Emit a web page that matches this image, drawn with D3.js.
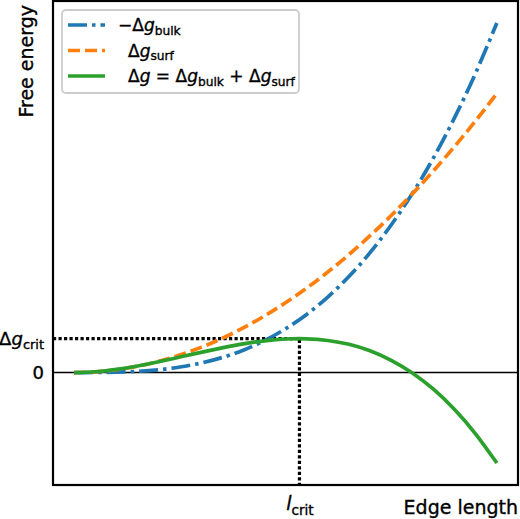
<!DOCTYPE html>
<html>
<head>
<meta charset="utf-8">
<script src="https://cdn.jsdelivr.net/npm/d3@7"></script>
<style>
  body { margin: 0; background: #fff; }
  svg { font-family: "DejaVu Sans", sans-serif; }
  text { stroke: #000; stroke-width: 0.35px; }
</style>
</head>
<body>
<div id="chart"></div>
<script>
// edge length (arbitrary units) and the three energy curves
var lengths  = [0, 0.5, 1, 1.5, 2, 2.5, 3, 3.5, 4, 4.5, 5, 5.5, 6, 6.5, 7, 7.5, 8, 8.5, 9, 9.5, 10];
var negBulk  = [0, 0.004, 0.035, 0.12, 0.28, 0.55, 0.95, 1.50, 2.24, 3.19, 4.38, 5.82, 7.56, 9.61, 12.0, 14.77, 17.92, 21.49, 25.52, 30.01, 35.0];
var surf     = [0, 0.07, 0.28, 0.63, 1.12, 1.75, 2.52, 3.42, 4.47, 5.66, 6.99, 8.45, 10.06, 11.81, 13.70, 15.72, 17.89, 20.19, 22.64, 25.22, 27.95];
var total    = [0, 0.08, 0.31, 0.66, 1.08, 1.55, 2.02, 2.47, 2.87, 3.17, 3.36, 3.38, 3.21, 2.83, 2.18, 1.22, -0.04, -1.67, -3.70, -6.16, -9.06];
var critLength = 5.33, critEnergy = 3.39;

var svgWidth = 520, svgHeight = 519;
var plotLeft = 53, plotRight = 518, plotTop = 1, plotBottom = 485;

var svg = d3.select('#chart').append("svg")
    .attr("width", svgWidth)
    .attr("height", svgHeight);

var x = d3.scaleLinear().domain([-0.5, 10.5]).range([plotLeft, plotRight]);
var y = d3.scaleLinear().domain([-11.26, 37.2]).range([plotBottom, plotTop]);

svg.append("clipPath").attr("id", "plot")
  .append("rect").attr("x", plotLeft).attr("y", plotTop)
  .attr("width", plotRight - plotLeft).attr("height", plotBottom - plotTop);

var plot = svg.append("g").attr("clip-path", "url(#plot)");

// zero line
plot.append("line")
    .attr("x1", plotLeft).attr("x2", plotRight)
    .attr("y1", y(0)).attr("y2", y(0))
    .attr("stroke", "#000").attr("stroke-width", 1.6);

// critical point guides
plot.append("path")
    .attr("d", "M" + plotLeft + "," + y(critEnergy) + "H" + x(critLength) + "V" + plotBottom)
    .attr("fill", "none")
    .attr("stroke", "#000").attr("stroke-width", 3.2)
    .attr("stroke-dasharray", "3.2,2.3");

var series = [
  {vals: negBulk, color: "#1f77b4", dash: "19,5,3.5,5"},
  {vals: surf,    color: "#ff7f0e", dash: "12,5"},
  {vals: total,   color: "#2ca02c", dash: null}
];

var line = d3.line()
    .x(function(d) { return x(d[0]); })
    .y(function(d) { return y(d[1]); })
    .curve(d3.curveNatural);

series.forEach(function(s) {
  plot.append("path")
      .attr("d", line(lengths.map(function(l, i) { return [l, s.vals[i]]; })))
      .attr("fill", "none")
      .attr("stroke", s.color)
      .attr("stroke-width", 3.7)
      .attr("stroke-dasharray", s.dash);
});

// frame
svg.append("rect")
    .attr("x", plotLeft).attr("y", plotTop)
    .attr("width", plotRight - plotLeft).attr("height", plotBottom - plotTop)
    .attr("fill", "none").attr("stroke", "#000").attr("stroke-width", 2.2);

// math-like label helper: parts = [[text, style]] style: "i" italic, "s" subscript
function mathText(sel, parts, size) {
  sel.text(null);
  var sub = false;
  parts.forEach(function(p) {
    var t = sel.append("tspan").text(p[0]);
    if (p[1] && p[1].indexOf("i") >= 0) t.attr("font-style", "italic");
    if (p[1] && p[1].indexOf("s") >= 0) {
      t.attr("font-size", size * 0.72);
      if (!sub) t.attr("dy", size * 0.22);
      sub = true;
    } else if (sub) {
      t.attr("dy", -size * 0.22);
      sub = false;
    }
  });
}

// y axis ticks
var yAxis = d3.axisLeft(y).tickValues([0, critEnergy]).tickSize(0).tickPadding(9);
var gy = svg.append("g").attr("transform", "translate(" + plotLeft + ",0)").call(yAxis);
gy.select(".domain").remove();
gy.selectAll("text").attr("font-size", 18).attr("font-family", "DejaVu Sans").attr("fill", "#000")
  .each(function(d) {
    if (d === critEnergy) mathText(d3.select(this), [["Δ"], ["g", "i"], ["crit", "s"]], 18);
  });

// x axis tick
var xAxis = d3.axisBottom(x).tickValues([critLength]).tickSize(0).tickPadding(12);
var gx = svg.append("g").attr("transform", "translate(0," + plotBottom + ")").call(xAxis);
gx.select(".domain").remove();
gx.selectAll("text").attr("font-size", 19).attr("font-family", "DejaVu Sans").attr("fill", "#000")
  .each(function() { mathText(d3.select(this), [["l", "i"], ["crit", "s"]], 19); });

// axis titles
svg.append("text")
    .attr("x", plotRight).attr("y", 514)
    .attr("text-anchor", "end")
    .attr("font-size", 19)
    .text("Edge length");

svg.append("text")
    .attr("transform", "translate(33," + plotTop + ") rotate(-90)")
    .attr("text-anchor", "end")
    .attr("x", -4)
    .attr("font-size", 19)
    .text("Free energy");

// legend
var legend = svg.append("g");
legend.append("rect")
    .attr("x", 62).attr("y", 10).attr("width", 237).attr("height", 83)
    .attr("rx", 4)
    .attr("fill", "#fff").attr("fill-opacity", 0.8)
    .attr("stroke", "#cccccc").attr("stroke-width", 1.8);

var legendLabels = [
  [["−Δ"], ["g", "i"], ["bulk", "s"]],
  [["Δ"], ["g", "i"], ["surf", "s"]],
  [["Δ"], ["g", "i"], [" = Δ"], ["g", "i"], ["bulk", "s"], [" + Δ"], ["g", "i"], ["surf", "s"]]
];
var legendX = [118, 128, 128];

series.forEach(function(s, i) {
  var ly = 25 + i * 25.5;
  legend.append("line")
      .attr("x1", 68).attr("x2", 105)
      .attr("y1", ly).attr("y2", ly)
      .attr("stroke", s.color).attr("stroke-width", 3.7)
      .attr("stroke-dasharray", s.dash);
  var t = legend.append("text")
      .attr("x", legendX[i]).attr("y", ly + 6)
      .attr("font-size", 17);
  mathText(t, legendLabels[i], 17);
});
</script>
</body>
</html>
